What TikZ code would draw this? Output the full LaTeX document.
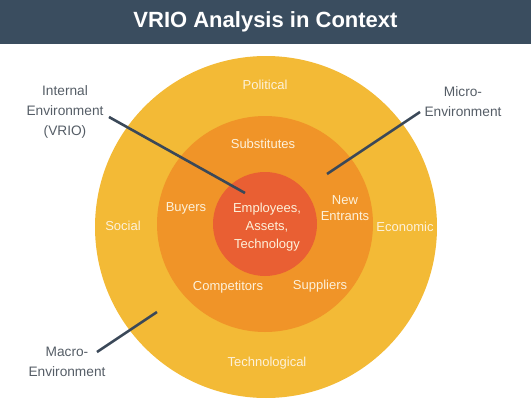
\documentclass[tikz,border=0pt]{standalone}
\usepackage{fontspec}
\setmainfont{Liberation Sans}
\usetikzlibrary{positioning}

\begin{document}
\begin{tikzpicture}[
    x=1pt, y=-1pt,
    every node/.style={font=\rmfamily},
    ringtext/.style={text=ringfont, font=\fontsize{13}{15.5}\selectfont, align=center},
    sidetext/.style={text=labelcolor, font=\fontsize{13.7}{20}\selectfont, align=center},
    pointer/.style={draw=linecolor, line width=2.6pt},
]

\definecolor{headcolor}{HTML}{3A4D5F}    % title bar
\definecolor{c1}{HTML}{F3BA36}           % macro ring
\definecolor{c2}{HTML}{F09428}           % micro ring
\definecolor{c3}{HTML}{E95F33}           % the firm itself
\definecolor{ringfont}{HTML}{FDF1DA}
\definecolor{labelcolor}{HTML}{555D66}
\definecolor{linecolor}{HTML}{3A4858}

% ================================================================
% Pixel grid of the 531 x 415 picture, y running downwards.
%   title bar     y in [0, 44]
%   outer ring    centre (266,227)  r = 171
%   middle ring   centre (265,224)  r = 108
%   inner disc    centre (265,224)  r = 52
% ================================================================

\useasboundingbox (0,0) rectangle (531,415);

% ---------------------------------------------------------------- title
\fill[headcolor] (0,0) rectangle (531,44);
\node[text=white, font=\fontsize{22}{24}\selectfont\bfseries] (title) at (265.5,22) {VRIO Analysis in Context};

% ---------------------------------------------------------------- rings
\node[circle, fill=c1, minimum size=342pt, inner sep=0pt] (macro) at (266,227) {};
\node[circle, fill=c2, minimum size=216pt, inner sep=0pt] (micro) at (265,224) {};
\node[circle, fill=c3, minimum size=104pt, inner sep=0pt] (firm)  at (265,224) {};

% outer ring: PEST
\node[ringtext] (political) at (265,85)  {Political};
\node[ringtext] (social)    at (123,226) {Social};
\node[ringtext] (economic)  at (405,227) {Economic};
\node[ringtext] (techno)    at (267,363) {Technological};

% middle ring: five forces
\node[ringtext] (subst)   at (263,144) {Substitutes};
\node[ringtext] (buyers)  at (186,208) {Buyers};
\node[ringtext] (entrant) at (345,208) {New\\Entrants};
\node[ringtext] (compet)  at (228,287) {Competitors};
\node[ringtext] (suppl)   at (320,286) {Suppliers};

% inner disc
\node[ringtext, font=\fontsize{13}{18}\selectfont] (resources) at (267,227)
    {Employees,\\Assets,\\Technology};

% ---------------------------------------------------------------- side labels
\node[sidetext] (internal) at (65,112) {Internal\\Environment\\(VRIO)};
\node[sidetext] (microlab) at (463,102) {Micro-\\Environment};
\node[sidetext] (macrolab) at (67,362)  {Macro-\\Environment};

\coordinate (internal-in) at (245,193);
\coordinate (micro-in)    at (327,174);
\coordinate (macro-in)    at (157,312);

\draw[pointer] (internal.east |- 0,117) ++(2,0) coordinate (internal-out) -- (internal-in);
\draw[pointer] (microlab.west |- 0,112) ++(-1,0) coordinate (micro-out) -- (micro-in);
\draw[pointer] (macrolab.east |- 0,352) ++(-12,0) coordinate (macro-out) -- (macro-in);

\end{tikzpicture}
\end{document}
